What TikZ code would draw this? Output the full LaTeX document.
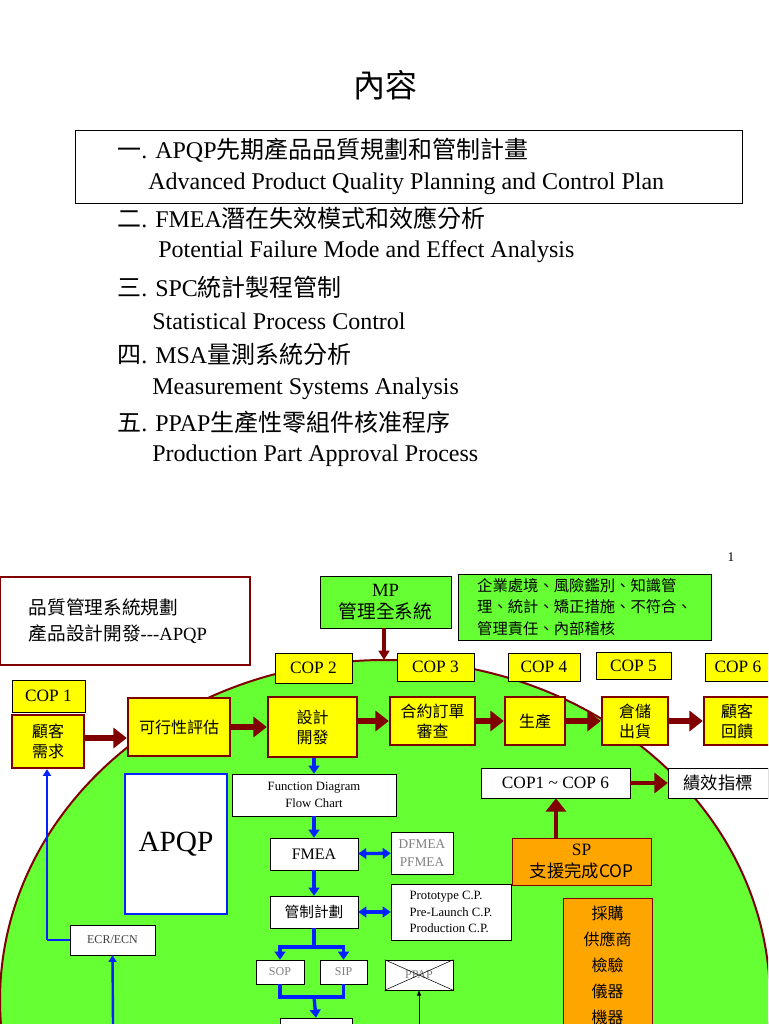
\documentclass[tikz,border=0pt]{standalone}
\usepackage{fontspec}
\setmainfont{Liberation Serif}
\newfontfamily\cjk{Noto Sans CJK TC}
\newcommand{\C}[1]{{\cjk #1}}
\usetikzlibrary{arrows.meta}
\definecolor{dred}{HTML}{800000}
\definecolor{lgreen}{HTML}{66FF33}
\definecolor{ygold}{HTML}{FFFF00}
\definecolor{orng}{HTML}{FFA500}
\definecolor{bblue}{HTML}{0022FF}
\tikzset{
 lst/.style={anchor=west,font=\fontsize{18}{20}\selectfont,inner sep=0},
 cop/.style={draw=black,fill=ygold,font=\fontsize{13}{15}\selectfont,inner sep=0},
 proc/.style={draw=dred,line width=1.8pt,fill=ygold,font=\fontsize{12}{15}\selectfont\cjk,align=center,inner sep=0},
 wbox/.style={draw=black,fill=white,align=center,inner sep=0},
 rarr/.style={dred,line width=4.5pt,-{Triangle[width=15pt,length=10pt]}},
 barr/.style={bblue,line width=2.5pt,-{Triangle[width=8pt,length=6pt]}},
 bdarr/.style={bblue,line width=2.5pt,{Triangle[width=8pt,length=6pt]}-{Triangle[width=8pt,length=6pt]}},
}
\begin{document}
\begin{tikzpicture}[x=0.75pt,y=-0.75pt]
\useasboundingbox (0,0) rectangle (768,1024);
\clip (0,0) rectangle (768,1024);
\fill[white] (0,0) rectangle (768,1024);
% top page
\node[font=\fontsize{24}{28}\selectfont\cjk] (title) at (385,85) {內容};
\draw (75,130) rectangle (742,203);
\node[lst] (l1) at (117,150) {\C{一}. APQP\C{先期產品品質規劃和管制計畫}};
\node[lst] (l1e) at (148,184) {Advanced Product Quality Planning and Control Plan};
\node[lst] (l2) at (117,218) {\C{二}. FMEA\C{潛在失效模式和效應分析}};
\node[lst] (l2e) at (158,252) {Potential Failure Mode and Effect Analysis};
\node[lst] (l3) at (117,287) {\C{三}. SPC\C{統計製程管制}};
\node[lst] (l3e) at (152,321) {Statistical Process Control};
\node[lst] (l4) at (117,354) {\C{四}. MSA\C{量測系統分析}};
\node[lst] (l4e) at (152,389) {Measurement Systems Analysis};
\node[lst] (l5) at (117,422) {\C{五}. PPAP\C{生產性零組件核准程序}};
\node[lst] (l5e) at (152,456) {Production Part Approval Process};
\node[font=\fontsize{10}{12}\selectfont] (pg) at (731,557) {1};
% lower slide
\draw[dred,line width=1.5pt,fill=lgreen] (385,1000) ellipse [x radius=385,y radius=340];
\draw[dred,line width=0.8pt,fill=white] (0,577) rectangle (250,665);
\node[anchor=west,font=\fontsize{14}{19}\selectfont\cjk,align=left] (hd) at (24,621) {品質管理系統規劃\\產品設計開發{\rmfamily -{}-{}-APQP}};
\node[draw=black,fill=lgreen,minimum width=131*0.75pt,minimum height=52*0.75pt,align=center,inner sep=0,font=\fontsize{14}{16}\selectfont] (mp) at (385.5,602) {MP\\\C{管理全系統}};
\node[draw=black,fill=lgreen,minimum width=253*0.75pt,minimum height=66*0.75pt,align=left,inner sep=2pt,font=\fontsize{11.5}{16}\selectfont\cjk] (note) at (584.5,607) {企業處境、風險鑑別、知識管\\理、統計、矯正措施、不符合、\\管理責任、內部稽核};
\coordinate (mpend) at (384,660);
\draw[dred,line width=2.5pt,-{Triangle[width=8pt,length=7pt]}] (mp.south -| mpend) -- (mpend);
% COPs
\node[cop,minimum width=73*0.75pt,minimum height=32*0.75pt] (c1) at (48.5,696) {COP 1};
\node[cop,minimum width=77*0.75pt,minimum height=30*0.75pt] (c2) at (313.5,668) {COP 2};
\node[cop,minimum width=77*0.75pt,minimum height=28*0.75pt] (c3) at (435.5,667) {COP 3};
\node[cop,minimum width=72*0.75pt,minimum height=28*0.75pt] (c4) at (544,667) {COP 4};
\node[cop,minimum width=75*0.75pt,minimum height=27*0.75pt] (c5) at (633.5,665.5) {COP 5};
\node[cop,minimum width=66*0.75pt,minimum height=28*0.75pt] (c6) at (738,667) {COP 6};
% process
\node[proc,minimum width=72*0.75pt,minimum height=53*0.75pt] (p1) at (48,741.5) {顧客\\需求};
\node[proc,minimum width=102*0.75pt,minimum height=58*0.75pt] (p2) at (179,727) {可行性評估};
\node[proc,minimum width=89*0.75pt,minimum height=60*0.75pt] (p3) at (312.5,727) {設計\\開發};
\node[proc,minimum width=85*0.75pt,minimum height=48*0.75pt] (p4) at (432.5,721) {合約訂單\\審查};
\node[proc,minimum width=60*0.75pt,minimum height=48*0.75pt] (p5) at (535,721) {生產};
\node[proc,minimum width=66*0.75pt,minimum height=48*0.75pt] (p6) at (635,721) {倉儲\\出貨};
\node[proc,minimum width=66*0.75pt,minimum height=48*0.75pt] (p7) at (737,721) {顧客\\回饋};
\draw[rarr] (p1.east |- 0,738) -- (p2.west |- 0,738);
\draw[rarr] (p2) -- (p3);
\draw[rarr] (p3.east |- p4) -- (p4);
\draw[rarr] (p4) -- (p5);
\draw[rarr] (p5) -- (p6);
\draw[rarr] (p6) -- (p7);
% APQP chain
\node[draw=bblue,line width=2pt,fill=white,minimum width=102*0.75pt,minimum height=140*0.75pt,font=\fontsize{22}{24}\selectfont] (apqp) at (176,844) {APQP};
\node[wbox,minimum width=164*0.75pt,minimum height=42*0.75pt,font=\fontsize{9.5}{13}\selectfont] (fd) at (314,795) {Function Diagram\\Flow Chart};
\node[wbox,minimum width=88*0.75pt,minimum height=32*0.75pt,font=\fontsize{12}{14}\selectfont] (fmea) at (314,854) {FMEA};
\node[wbox,minimum width=62*0.75pt,minimum height=42*0.75pt,font=\fontsize{10}{13}\selectfont,text=gray] (dfm) at (422,853) {DFMEA\\PFMEA};
\node[wbox,minimum width=88*0.75pt,minimum height=32*0.75pt,font=\fontsize{11}{14}\selectfont\cjk] (cp) at (314,912) {管制計劃};
\node[wbox,minimum width=120*0.75pt,minimum height=56*0.75pt,font=\fontsize{9.5}{12.5}\selectfont,align=left] (proto) at (451,912) {Prototype C.P.\\Pre-Launch C.P.\\Production C.P.};
\node[wbox,minimum width=48*0.75pt,minimum height=24*0.75pt,font=\fontsize{9}{11}\selectfont,text=gray] (sop) at (280,972) {SOP};
\node[wbox,minimum width=47*0.75pt,minimum height=24*0.75pt,font=\fontsize{9}{11}\selectfont,text=gray] (sip) at (343.5,972) {SIP};
\node[wbox,minimum width=72*0.75pt,minimum height=30*0.75pt] (nx) at (316,1033) {};
\node[wbox,minimum width=68*0.75pt,minimum height=30*0.75pt,font=\fontsize{9}{11}\selectfont,text=gray] (ppap) at (419,975) {PPAP};
\draw (ppap.north west) -- (ppap.south east) (ppap.north east) -- (ppap.south west);
\coordinate (ppb) at (419,1024);
\draw[-{Triangle[width=3pt,length=4pt]}] (ppb) -- (ppap.south);
\draw[barr] (p3.south -| fd) -- (fd);
\draw[barr] (fd) -- (fmea);
\draw[bdarr] (fmea) -- (dfm);
\draw[barr] (fmea) -- (cp);
\draw[bdarr] (cp) -- (proto);
\coordinate (sp1) at (314,947);
\draw[bblue,line width=2.5pt] (cp.south) -- (sp1);
\draw[barr] (sp1) -| (sop.north);
\draw[barr] (sp1) -| (sip.north);
\coordinate (jn) at (314,997);
\draw[bblue,line width=2.5pt] (sop.south) |- (jn) -| (sip.south);
\draw[barr] (jn) -- (nx.north);
% ECR
\node[wbox,minimum width=85*0.75pt,minimum height=30*0.75pt,font=\fontsize{9}{11}\selectfont,text=darkgray] (ecr) at (112.5,940) {ECR/ECN};
\coordinate (ecrl) at (47,940);
\draw[bblue,line width=1.8pt] (ecr.west) -- (ecrl);
\draw[bblue,line width=1.8pt,-{Triangle[width=6pt,length=5pt]}] (ecrl) -- (ecrl |- p1.south);
\coordinate (ecb) at (113,1024);
\draw[bblue,line width=1.8pt,-{Triangle[width=6pt,length=5pt]}] (ecb) -- (ecr.south);
% right side
\node[wbox,minimum width=149*0.75pt,minimum height=30*0.75pt,font=\fontsize{13}{15}\selectfont] (call) at (555.5,783) {COP1 \textasciitilde{} COP 6};
\node[wbox,minimum width=100*0.75pt,minimum height=30*0.75pt,font=\fontsize{13}{15}\selectfont\cjk] (kpi) at (718,783) {績效指標};
\draw[rarr,line width=3.5pt] (call) -- (kpi);
\node[draw=dred,fill=orng,minimum width=139*0.75pt,minimum height=47*0.75pt,align=center,inner sep=0,font=\fontsize{13}{16}\selectfont] (sp) at (581.5,861.5) {SP\\\C{支援完成COP}};
\draw[rarr,line width=3.5pt] (sp.north -| 556,0) -- (call.south -| 556,0);
\node[draw=dred,fill=orng,minimum width=89*0.75pt,minimum height=170*0.75pt,anchor=north,inner sep=0] (sup) at (607.5,898) {};
\node[anchor=north,font=\fontsize{12}{19.5}\selectfont\cjk,align=center,inner sep=0] (supt) at (607.5,906) {採購\\供應商\\檢驗\\儀器\\機器\\生管};
\end{tikzpicture}
\end{document}
